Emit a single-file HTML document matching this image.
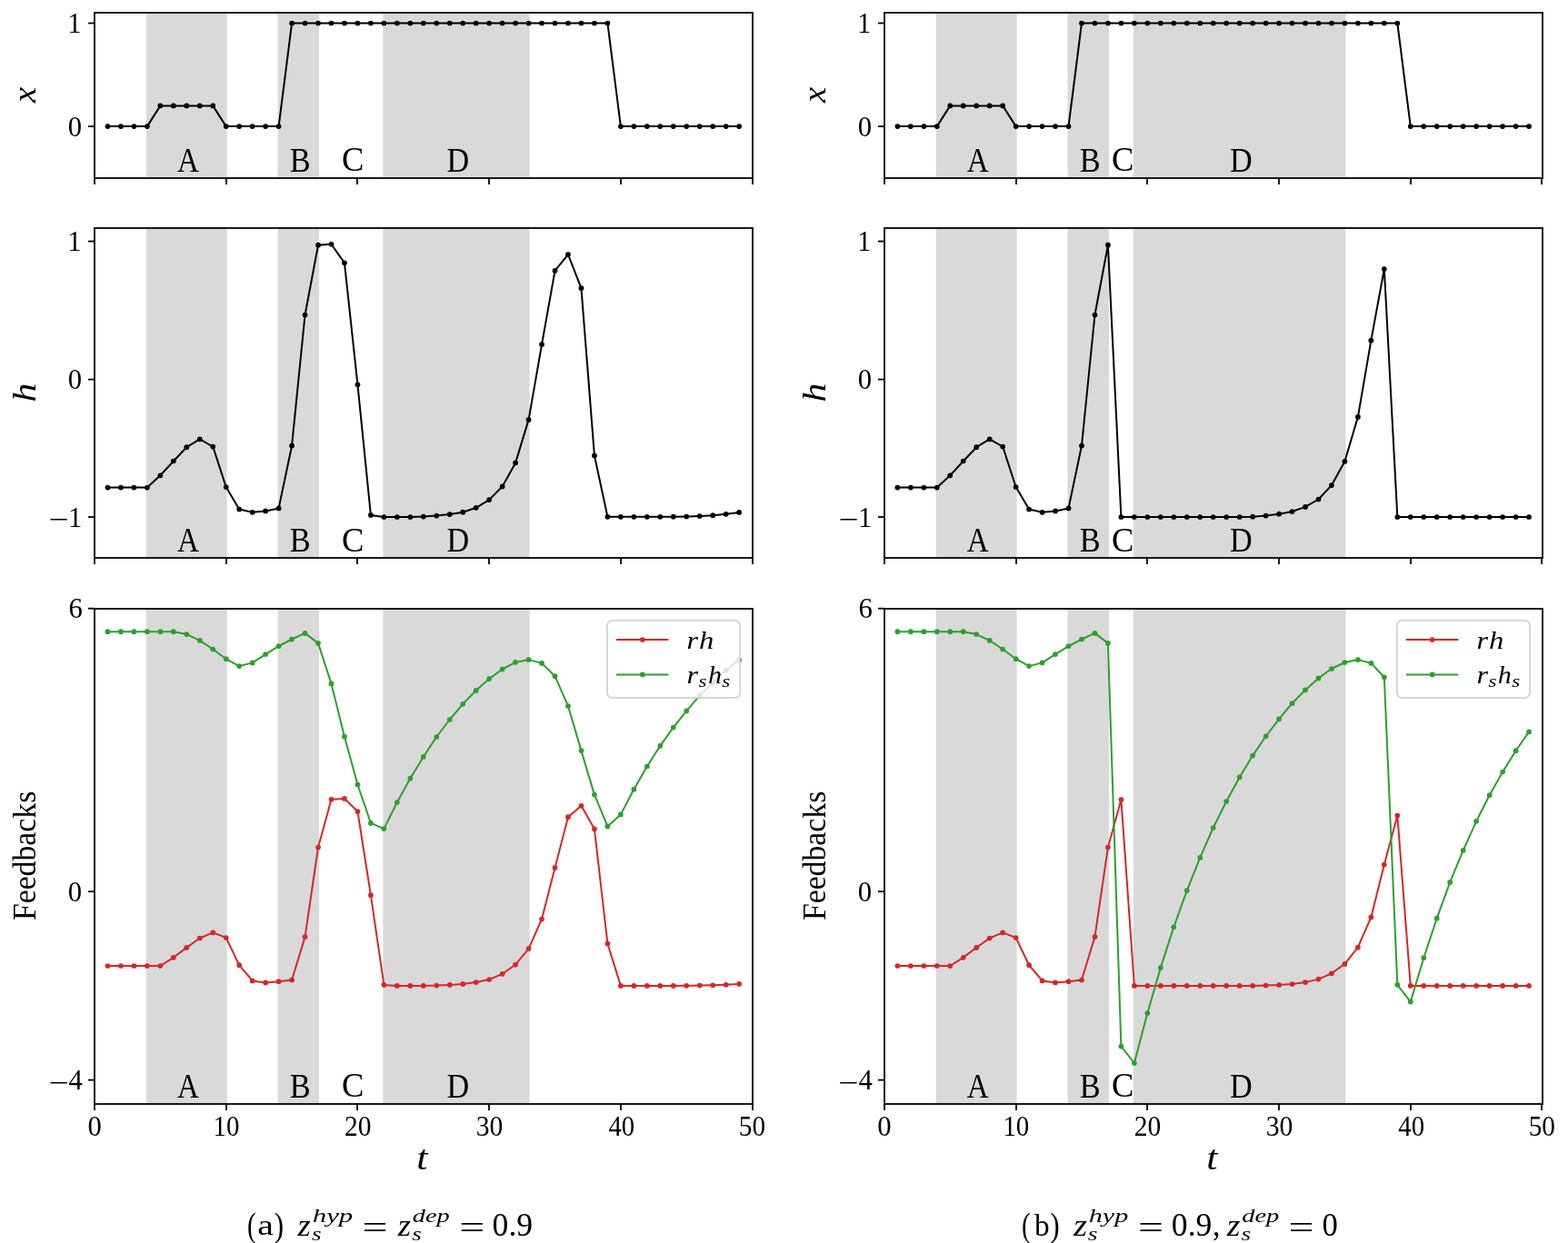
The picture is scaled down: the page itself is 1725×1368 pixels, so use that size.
<!DOCTYPE html>
<html><head><meta charset="utf-8"><title>Feedbacks figure</title>
<style>
html,body{margin:0;padding:0;background:#fff;}
body{width:1725px;height:1368px;overflow:hidden;}
svg{display:block;}
text{font-family:'Liberation Serif', 'DejaVu Serif', serif;fill:#000;}
</style></head>
<body>
<svg width="1725" height="1368" viewBox="0 0 1725 1368">
<rect x="0" y="0" width="1725" height="1368" fill="#ffffff"/>
<rect x="160.89" y="14.10" width="88.83" height="181.80" fill="#d9d9d9"/>
<rect x="305.61" y="14.10" width="45.42" height="181.80" fill="#d9d9d9"/>
<rect x="421.38" y="14.10" width="161.19" height="181.80" fill="#d9d9d9"/>
<polyline points="118.47,139.10 132.94,139.10 147.42,139.10 161.89,139.10 176.36,116.38 190.83,116.38 205.30,116.38 219.78,116.38 234.25,116.38 248.72,139.10 263.19,139.10 277.66,139.10 292.14,139.10 306.61,139.10 321.08,25.50 335.55,25.50 350.02,25.50 364.50,25.50 378.97,25.50 393.44,25.50 407.91,25.50 422.38,25.50 436.86,25.50 451.33,25.50 465.80,25.50 480.27,25.50 494.74,25.50 509.22,25.50 523.69,25.50 538.16,25.50 552.63,25.50 567.10,25.50 581.58,25.50 596.05,25.50 610.52,25.50 624.99,25.50 639.46,25.50 653.94,25.50 668.41,25.50 682.88,139.10 697.35,139.10 711.82,139.10 726.30,139.10 740.77,139.10 755.24,139.10 769.71,139.10 784.18,139.10 798.66,139.10 813.13,139.10" fill="none" stroke="#000000" stroke-width="2.00" stroke-linejoin="round" stroke-linecap="butt"/>
<g fill="#000000">
<circle cx="118.47" cy="139.10" r="2.85"/>
<circle cx="132.94" cy="139.10" r="2.85"/>
<circle cx="147.42" cy="139.10" r="2.85"/>
<circle cx="161.89" cy="139.10" r="2.85"/>
<circle cx="176.36" cy="116.38" r="2.85"/>
<circle cx="190.83" cy="116.38" r="2.85"/>
<circle cx="205.30" cy="116.38" r="2.85"/>
<circle cx="219.78" cy="116.38" r="2.85"/>
<circle cx="234.25" cy="116.38" r="2.85"/>
<circle cx="248.72" cy="139.10" r="2.85"/>
<circle cx="263.19" cy="139.10" r="2.85"/>
<circle cx="277.66" cy="139.10" r="2.85"/>
<circle cx="292.14" cy="139.10" r="2.85"/>
<circle cx="306.61" cy="139.10" r="2.85"/>
<circle cx="321.08" cy="25.50" r="2.85"/>
<circle cx="335.55" cy="25.50" r="2.85"/>
<circle cx="350.02" cy="25.50" r="2.85"/>
<circle cx="364.50" cy="25.50" r="2.85"/>
<circle cx="378.97" cy="25.50" r="2.85"/>
<circle cx="393.44" cy="25.50" r="2.85"/>
<circle cx="407.91" cy="25.50" r="2.85"/>
<circle cx="422.38" cy="25.50" r="2.85"/>
<circle cx="436.86" cy="25.50" r="2.85"/>
<circle cx="451.33" cy="25.50" r="2.85"/>
<circle cx="465.80" cy="25.50" r="2.85"/>
<circle cx="480.27" cy="25.50" r="2.85"/>
<circle cx="494.74" cy="25.50" r="2.85"/>
<circle cx="509.22" cy="25.50" r="2.85"/>
<circle cx="523.69" cy="25.50" r="2.85"/>
<circle cx="538.16" cy="25.50" r="2.85"/>
<circle cx="552.63" cy="25.50" r="2.85"/>
<circle cx="567.10" cy="25.50" r="2.85"/>
<circle cx="581.58" cy="25.50" r="2.85"/>
<circle cx="596.05" cy="25.50" r="2.85"/>
<circle cx="610.52" cy="25.50" r="2.85"/>
<circle cx="624.99" cy="25.50" r="2.85"/>
<circle cx="639.46" cy="25.50" r="2.85"/>
<circle cx="653.94" cy="25.50" r="2.85"/>
<circle cx="668.41" cy="25.50" r="2.85"/>
<circle cx="682.88" cy="139.10" r="2.85"/>
<circle cx="697.35" cy="139.10" r="2.85"/>
<circle cx="711.82" cy="139.10" r="2.85"/>
<circle cx="726.30" cy="139.10" r="2.85"/>
<circle cx="740.77" cy="139.10" r="2.85"/>
<circle cx="755.24" cy="139.10" r="2.85"/>
<circle cx="769.71" cy="139.10" r="2.85"/>
<circle cx="784.18" cy="139.10" r="2.85"/>
<circle cx="798.66" cy="139.10" r="2.85"/>
<circle cx="813.13" cy="139.10" r="2.85"/>
</g>
<rect x="104" y="14" width="724" height="182" fill="none" stroke="#000" stroke-width="1.8" stroke-linejoin="miter"/>
<line x1="104" y1="196" x2="104" y2="203" stroke="#000" stroke-width="1.8"/>
<line x1="249" y1="196" x2="249" y2="203" stroke="#000" stroke-width="1.8"/>
<line x1="393" y1="196" x2="393" y2="203" stroke="#000" stroke-width="1.8"/>
<line x1="538" y1="196" x2="538" y2="203" stroke="#000" stroke-width="1.8"/>
<line x1="683" y1="196" x2="683" y2="203" stroke="#000" stroke-width="1.8"/>
<line x1="828" y1="196" x2="828" y2="203" stroke="#000" stroke-width="1.8"/>
<line x1="97" y1="25.50" x2="104" y2="25.50" stroke="#000" stroke-width="1.8"/>
<line x1="97" y1="139.10" x2="104" y2="139.10" stroke="#000" stroke-width="1.8"/>
<rect x="160.89" y="251.10" width="88.83" height="363.30" fill="#d9d9d9"/>
<rect x="305.61" y="251.10" width="45.42" height="363.30" fill="#d9d9d9"/>
<rect x="421.38" y="251.10" width="161.19" height="363.30" fill="#d9d9d9"/>
<polyline points="118.47,536.60 132.94,536.60 147.42,536.60 161.89,536.60 176.36,523.30 190.83,507.50 205.30,492.20 219.78,483.30 234.25,491.50 248.72,536.00 263.19,560.50 277.66,563.80 292.14,562.40 306.61,559.40 321.08,490.50 335.55,346.50 350.02,269.70 364.50,268.75 378.97,289.30 393.44,423.30 407.91,566.90 422.38,569.00 436.86,569.00 451.33,569.00 465.80,568.60 480.27,567.60 494.74,566.10 509.22,563.70 523.69,558.80 538.16,550.10 552.63,535.40 567.10,509.40 581.58,461.90 596.05,379.10 610.52,297.90 624.99,280.10 639.46,317.20 653.94,501.40 668.41,568.80 682.88,568.80 697.35,568.80 711.82,568.80 726.30,568.80 740.77,568.70 755.24,568.50 769.71,568.00 784.18,567.20 798.66,565.80 813.13,563.90" fill="none" stroke="#000000" stroke-width="2.00" stroke-linejoin="round" stroke-linecap="butt"/>
<g fill="#000000">
<circle cx="118.47" cy="536.60" r="2.85"/>
<circle cx="132.94" cy="536.60" r="2.85"/>
<circle cx="147.42" cy="536.60" r="2.85"/>
<circle cx="161.89" cy="536.60" r="2.85"/>
<circle cx="176.36" cy="523.30" r="2.85"/>
<circle cx="190.83" cy="507.50" r="2.85"/>
<circle cx="205.30" cy="492.20" r="2.85"/>
<circle cx="219.78" cy="483.30" r="2.85"/>
<circle cx="234.25" cy="491.50" r="2.85"/>
<circle cx="248.72" cy="536.00" r="2.85"/>
<circle cx="263.19" cy="560.50" r="2.85"/>
<circle cx="277.66" cy="563.80" r="2.85"/>
<circle cx="292.14" cy="562.40" r="2.85"/>
<circle cx="306.61" cy="559.40" r="2.85"/>
<circle cx="321.08" cy="490.50" r="2.85"/>
<circle cx="335.55" cy="346.50" r="2.85"/>
<circle cx="350.02" cy="269.70" r="2.85"/>
<circle cx="364.50" cy="268.75" r="2.85"/>
<circle cx="378.97" cy="289.30" r="2.85"/>
<circle cx="393.44" cy="423.30" r="2.85"/>
<circle cx="407.91" cy="566.90" r="2.85"/>
<circle cx="422.38" cy="569.00" r="2.85"/>
<circle cx="436.86" cy="569.00" r="2.85"/>
<circle cx="451.33" cy="569.00" r="2.85"/>
<circle cx="465.80" cy="568.60" r="2.85"/>
<circle cx="480.27" cy="567.60" r="2.85"/>
<circle cx="494.74" cy="566.10" r="2.85"/>
<circle cx="509.22" cy="563.70" r="2.85"/>
<circle cx="523.69" cy="558.80" r="2.85"/>
<circle cx="538.16" cy="550.10" r="2.85"/>
<circle cx="552.63" cy="535.40" r="2.85"/>
<circle cx="567.10" cy="509.40" r="2.85"/>
<circle cx="581.58" cy="461.90" r="2.85"/>
<circle cx="596.05" cy="379.10" r="2.85"/>
<circle cx="610.52" cy="297.90" r="2.85"/>
<circle cx="624.99" cy="280.10" r="2.85"/>
<circle cx="639.46" cy="317.20" r="2.85"/>
<circle cx="653.94" cy="501.40" r="2.85"/>
<circle cx="668.41" cy="568.80" r="2.85"/>
<circle cx="682.88" cy="568.80" r="2.85"/>
<circle cx="697.35" cy="568.80" r="2.85"/>
<circle cx="711.82" cy="568.80" r="2.85"/>
<circle cx="726.30" cy="568.80" r="2.85"/>
<circle cx="740.77" cy="568.70" r="2.85"/>
<circle cx="755.24" cy="568.50" r="2.85"/>
<circle cx="769.71" cy="568.00" r="2.85"/>
<circle cx="784.18" cy="567.20" r="2.85"/>
<circle cx="798.66" cy="565.80" r="2.85"/>
<circle cx="813.13" cy="563.90" r="2.85"/>
</g>
<rect x="104" y="251" width="724" height="363" fill="none" stroke="#000" stroke-width="1.8" stroke-linejoin="miter"/>
<line x1="104" y1="614" x2="104" y2="621" stroke="#000" stroke-width="1.8"/>
<line x1="249" y1="614" x2="249" y2="621" stroke="#000" stroke-width="1.8"/>
<line x1="393" y1="614" x2="393" y2="621" stroke="#000" stroke-width="1.8"/>
<line x1="538" y1="614" x2="538" y2="621" stroke="#000" stroke-width="1.8"/>
<line x1="683" y1="614" x2="683" y2="621" stroke="#000" stroke-width="1.8"/>
<line x1="828" y1="614" x2="828" y2="621" stroke="#000" stroke-width="1.8"/>
<line x1="97" y1="265.60" x2="104" y2="265.60" stroke="#000" stroke-width="1.8"/>
<line x1="97" y1="417.60" x2="104" y2="417.60" stroke="#000" stroke-width="1.8"/>
<line x1="97" y1="569.00" x2="104" y2="569.00" stroke="#000" stroke-width="1.8"/>
<rect x="160.89" y="669.70" width="88.83" height="545.10" fill="#d9d9d9"/>
<rect x="305.61" y="669.70" width="45.42" height="545.10" fill="#d9d9d9"/>
<rect x="421.38" y="669.70" width="161.19" height="545.10" fill="#d9d9d9"/>
<polyline points="118.47,1063.00 132.94,1063.00 147.42,1063.00 161.89,1063.00 176.36,1063.00 190.83,1053.80 205.30,1042.90 219.78,1032.50 234.25,1026.40 248.72,1032.00 263.19,1062.20 277.66,1079.40 292.14,1081.40 306.61,1080.20 321.08,1078.50 335.55,1031.10 350.02,932.60 364.50,879.80 378.97,878.90 393.44,893.00 407.91,985.20 422.38,1083.90 436.86,1084.90 451.33,1084.90 465.80,1084.90 480.27,1084.60 494.74,1083.90 509.22,1082.90 523.69,1081.10 538.16,1078.00 552.63,1071.80 567.10,1061.70 581.58,1044.10 596.05,1011.50 610.52,954.90 624.99,899.20 639.46,886.80 653.94,912.30 668.41,1038.50 682.88,1084.90 697.35,1084.90 711.82,1084.90 726.30,1084.90 740.77,1084.90 755.24,1084.80 769.71,1084.60 784.18,1084.30 798.66,1083.80 813.13,1082.90" fill="none" stroke="#d62728" stroke-width="2.00" stroke-linejoin="round" stroke-linecap="butt"/>
<g fill="#d62728">
<circle cx="118.47" cy="1063.00" r="2.85"/>
<circle cx="132.94" cy="1063.00" r="2.85"/>
<circle cx="147.42" cy="1063.00" r="2.85"/>
<circle cx="161.89" cy="1063.00" r="2.85"/>
<circle cx="176.36" cy="1063.00" r="2.85"/>
<circle cx="190.83" cy="1053.80" r="2.85"/>
<circle cx="205.30" cy="1042.90" r="2.85"/>
<circle cx="219.78" cy="1032.50" r="2.85"/>
<circle cx="234.25" cy="1026.40" r="2.85"/>
<circle cx="248.72" cy="1032.00" r="2.85"/>
<circle cx="263.19" cy="1062.20" r="2.85"/>
<circle cx="277.66" cy="1079.40" r="2.85"/>
<circle cx="292.14" cy="1081.40" r="2.85"/>
<circle cx="306.61" cy="1080.20" r="2.85"/>
<circle cx="321.08" cy="1078.50" r="2.85"/>
<circle cx="335.55" cy="1031.10" r="2.85"/>
<circle cx="350.02" cy="932.60" r="2.85"/>
<circle cx="364.50" cy="879.80" r="2.85"/>
<circle cx="378.97" cy="878.90" r="2.85"/>
<circle cx="393.44" cy="893.00" r="2.85"/>
<circle cx="407.91" cy="985.20" r="2.85"/>
<circle cx="422.38" cy="1083.90" r="2.85"/>
<circle cx="436.86" cy="1084.90" r="2.85"/>
<circle cx="451.33" cy="1084.90" r="2.85"/>
<circle cx="465.80" cy="1084.90" r="2.85"/>
<circle cx="480.27" cy="1084.60" r="2.85"/>
<circle cx="494.74" cy="1083.90" r="2.85"/>
<circle cx="509.22" cy="1082.90" r="2.85"/>
<circle cx="523.69" cy="1081.10" r="2.85"/>
<circle cx="538.16" cy="1078.00" r="2.85"/>
<circle cx="552.63" cy="1071.80" r="2.85"/>
<circle cx="567.10" cy="1061.70" r="2.85"/>
<circle cx="581.58" cy="1044.10" r="2.85"/>
<circle cx="596.05" cy="1011.50" r="2.85"/>
<circle cx="610.52" cy="954.90" r="2.85"/>
<circle cx="624.99" cy="899.20" r="2.85"/>
<circle cx="639.46" cy="886.80" r="2.85"/>
<circle cx="653.94" cy="912.30" r="2.85"/>
<circle cx="668.41" cy="1038.50" r="2.85"/>
<circle cx="682.88" cy="1084.90" r="2.85"/>
<circle cx="697.35" cy="1084.90" r="2.85"/>
<circle cx="711.82" cy="1084.90" r="2.85"/>
<circle cx="726.30" cy="1084.90" r="2.85"/>
<circle cx="740.77" cy="1084.90" r="2.85"/>
<circle cx="755.24" cy="1084.80" r="2.85"/>
<circle cx="769.71" cy="1084.60" r="2.85"/>
<circle cx="784.18" cy="1084.30" r="2.85"/>
<circle cx="798.66" cy="1083.80" r="2.85"/>
<circle cx="813.13" cy="1082.90" r="2.85"/>
</g>
<polyline points="118.47,695.20 132.94,695.20 147.42,695.20 161.89,695.20 176.36,695.20 190.83,695.20 205.30,698.10 219.78,704.90 234.25,714.50 248.72,725.20 263.19,733.10 277.66,729.40 292.14,720.10 306.61,711.10 321.08,703.50 335.55,696.90 350.02,707.90 364.50,752.40 378.97,810.70 393.44,863.50 407.91,905.90 422.38,912.10 436.86,883.00 451.33,856.70 465.80,832.90 480.27,811.00 494.74,792.00 509.22,774.80 523.69,759.90 538.16,747.10 552.63,736.50 567.10,728.90 581.58,726.10 596.05,729.90 610.52,744.20 624.99,777.00 639.46,826.10 653.94,874.60 668.41,909.40 682.88,896.40 697.35,868.70 711.82,843.50 726.30,820.80 740.77,800.60 755.24,782.40 769.71,765.60 784.18,751.30 798.66,737.80 813.13,726.40" fill="none" stroke="#2ca02c" stroke-width="2.00" stroke-linejoin="round" stroke-linecap="butt"/>
<g fill="#2ca02c">
<circle cx="118.47" cy="695.20" r="2.85"/>
<circle cx="132.94" cy="695.20" r="2.85"/>
<circle cx="147.42" cy="695.20" r="2.85"/>
<circle cx="161.89" cy="695.20" r="2.85"/>
<circle cx="176.36" cy="695.20" r="2.85"/>
<circle cx="190.83" cy="695.20" r="2.85"/>
<circle cx="205.30" cy="698.10" r="2.85"/>
<circle cx="219.78" cy="704.90" r="2.85"/>
<circle cx="234.25" cy="714.50" r="2.85"/>
<circle cx="248.72" cy="725.20" r="2.85"/>
<circle cx="263.19" cy="733.10" r="2.85"/>
<circle cx="277.66" cy="729.40" r="2.85"/>
<circle cx="292.14" cy="720.10" r="2.85"/>
<circle cx="306.61" cy="711.10" r="2.85"/>
<circle cx="321.08" cy="703.50" r="2.85"/>
<circle cx="335.55" cy="696.90" r="2.85"/>
<circle cx="350.02" cy="707.90" r="2.85"/>
<circle cx="364.50" cy="752.40" r="2.85"/>
<circle cx="378.97" cy="810.70" r="2.85"/>
<circle cx="393.44" cy="863.50" r="2.85"/>
<circle cx="407.91" cy="905.90" r="2.85"/>
<circle cx="422.38" cy="912.10" r="2.85"/>
<circle cx="436.86" cy="883.00" r="2.85"/>
<circle cx="451.33" cy="856.70" r="2.85"/>
<circle cx="465.80" cy="832.90" r="2.85"/>
<circle cx="480.27" cy="811.00" r="2.85"/>
<circle cx="494.74" cy="792.00" r="2.85"/>
<circle cx="509.22" cy="774.80" r="2.85"/>
<circle cx="523.69" cy="759.90" r="2.85"/>
<circle cx="538.16" cy="747.10" r="2.85"/>
<circle cx="552.63" cy="736.50" r="2.85"/>
<circle cx="567.10" cy="728.90" r="2.85"/>
<circle cx="581.58" cy="726.10" r="2.85"/>
<circle cx="596.05" cy="729.90" r="2.85"/>
<circle cx="610.52" cy="744.20" r="2.85"/>
<circle cx="624.99" cy="777.00" r="2.85"/>
<circle cx="639.46" cy="826.10" r="2.85"/>
<circle cx="653.94" cy="874.60" r="2.85"/>
<circle cx="668.41" cy="909.40" r="2.85"/>
<circle cx="682.88" cy="896.40" r="2.85"/>
<circle cx="697.35" cy="868.70" r="2.85"/>
<circle cx="711.82" cy="843.50" r="2.85"/>
<circle cx="726.30" cy="820.80" r="2.85"/>
<circle cx="740.77" cy="800.60" r="2.85"/>
<circle cx="755.24" cy="782.40" r="2.85"/>
<circle cx="769.71" cy="765.60" r="2.85"/>
<circle cx="784.18" cy="751.30" r="2.85"/>
<circle cx="798.66" cy="737.80" r="2.85"/>
<circle cx="813.13" cy="726.40" r="2.85"/>
</g>
<rect x="104" y="670" width="724" height="545" fill="none" stroke="#000" stroke-width="1.8" stroke-linejoin="miter"/>
<line x1="104" y1="1215" x2="104" y2="1222" stroke="#000" stroke-width="1.8"/>
<line x1="249" y1="1215" x2="249" y2="1222" stroke="#000" stroke-width="1.8"/>
<line x1="393" y1="1215" x2="393" y2="1222" stroke="#000" stroke-width="1.8"/>
<line x1="538" y1="1215" x2="538" y2="1222" stroke="#000" stroke-width="1.8"/>
<line x1="683" y1="1215" x2="683" y2="1222" stroke="#000" stroke-width="1.8"/>
<line x1="828" y1="1215" x2="828" y2="1222" stroke="#000" stroke-width="1.8"/>
<line x1="97" y1="669.70" x2="104" y2="669.70" stroke="#000" stroke-width="1.8"/>
<line x1="97" y1="981.20" x2="104" y2="981.20" stroke="#000" stroke-width="1.8"/>
<line x1="97" y1="1188.60" x2="104" y2="1188.60" stroke="#000" stroke-width="1.8"/>
<rect x="667.90" y="682.80" width="146.30" height="85.30" rx="6" ry="6" fill="#ffffff" fill-opacity="0.8" stroke="#cccccc" stroke-opacity="0.8" stroke-width="2"/>
<line x1="678.00" y1="704.00" x2="735.40" y2="704.00" stroke="#d62728" stroke-width="2"/>
<circle cx="706.80" cy="704.00" r="2.85" fill="#d62728"/>
<line x1="678.00" y1="742.40" x2="735.40" y2="742.40" stroke="#2ca02c" stroke-width="2"/>
<circle cx="706.80" cy="742.40" r="2.85" fill="#2ca02c"/>
<rect x="1029.79" y="14.10" width="88.83" height="181.80" fill="#d9d9d9"/>
<rect x="1174.51" y="14.10" width="45.42" height="181.80" fill="#d9d9d9"/>
<rect x="1246.87" y="14.10" width="233.55" height="181.80" fill="#d9d9d9"/>
<polyline points="987.37,139.10 1001.84,139.10 1016.32,139.10 1030.79,139.10 1045.26,116.38 1059.73,116.38 1074.20,116.38 1088.68,116.38 1103.15,116.38 1117.62,139.10 1132.09,139.10 1146.56,139.10 1161.04,139.10 1175.51,139.10 1189.98,25.50 1204.45,25.50 1218.92,25.50 1233.40,25.50 1247.87,25.50 1262.34,25.50 1276.81,25.50 1291.28,25.50 1305.76,25.50 1320.23,25.50 1334.70,25.50 1349.17,25.50 1363.64,25.50 1378.12,25.50 1392.59,25.50 1407.06,25.50 1421.53,25.50 1436.00,25.50 1450.48,25.50 1464.95,25.50 1479.42,25.50 1493.89,25.50 1508.36,25.50 1522.84,25.50 1537.31,25.50 1551.78,139.10 1566.25,139.10 1580.72,139.10 1595.20,139.10 1609.67,139.10 1624.14,139.10 1638.61,139.10 1653.08,139.10 1667.56,139.10 1682.03,139.10" fill="none" stroke="#000000" stroke-width="2.00" stroke-linejoin="round" stroke-linecap="butt"/>
<g fill="#000000">
<circle cx="987.37" cy="139.10" r="2.85"/>
<circle cx="1001.84" cy="139.10" r="2.85"/>
<circle cx="1016.32" cy="139.10" r="2.85"/>
<circle cx="1030.79" cy="139.10" r="2.85"/>
<circle cx="1045.26" cy="116.38" r="2.85"/>
<circle cx="1059.73" cy="116.38" r="2.85"/>
<circle cx="1074.20" cy="116.38" r="2.85"/>
<circle cx="1088.68" cy="116.38" r="2.85"/>
<circle cx="1103.15" cy="116.38" r="2.85"/>
<circle cx="1117.62" cy="139.10" r="2.85"/>
<circle cx="1132.09" cy="139.10" r="2.85"/>
<circle cx="1146.56" cy="139.10" r="2.85"/>
<circle cx="1161.04" cy="139.10" r="2.85"/>
<circle cx="1175.51" cy="139.10" r="2.85"/>
<circle cx="1189.98" cy="25.50" r="2.85"/>
<circle cx="1204.45" cy="25.50" r="2.85"/>
<circle cx="1218.92" cy="25.50" r="2.85"/>
<circle cx="1233.40" cy="25.50" r="2.85"/>
<circle cx="1247.87" cy="25.50" r="2.85"/>
<circle cx="1262.34" cy="25.50" r="2.85"/>
<circle cx="1276.81" cy="25.50" r="2.85"/>
<circle cx="1291.28" cy="25.50" r="2.85"/>
<circle cx="1305.76" cy="25.50" r="2.85"/>
<circle cx="1320.23" cy="25.50" r="2.85"/>
<circle cx="1334.70" cy="25.50" r="2.85"/>
<circle cx="1349.17" cy="25.50" r="2.85"/>
<circle cx="1363.64" cy="25.50" r="2.85"/>
<circle cx="1378.12" cy="25.50" r="2.85"/>
<circle cx="1392.59" cy="25.50" r="2.85"/>
<circle cx="1407.06" cy="25.50" r="2.85"/>
<circle cx="1421.53" cy="25.50" r="2.85"/>
<circle cx="1436.00" cy="25.50" r="2.85"/>
<circle cx="1450.48" cy="25.50" r="2.85"/>
<circle cx="1464.95" cy="25.50" r="2.85"/>
<circle cx="1479.42" cy="25.50" r="2.85"/>
<circle cx="1493.89" cy="25.50" r="2.85"/>
<circle cx="1508.36" cy="25.50" r="2.85"/>
<circle cx="1522.84" cy="25.50" r="2.85"/>
<circle cx="1537.31" cy="25.50" r="2.85"/>
<circle cx="1551.78" cy="139.10" r="2.85"/>
<circle cx="1566.25" cy="139.10" r="2.85"/>
<circle cx="1580.72" cy="139.10" r="2.85"/>
<circle cx="1595.20" cy="139.10" r="2.85"/>
<circle cx="1609.67" cy="139.10" r="2.85"/>
<circle cx="1624.14" cy="139.10" r="2.85"/>
<circle cx="1638.61" cy="139.10" r="2.85"/>
<circle cx="1653.08" cy="139.10" r="2.85"/>
<circle cx="1667.56" cy="139.10" r="2.85"/>
<circle cx="1682.03" cy="139.10" r="2.85"/>
</g>
<rect x="973" y="14" width="724" height="182" fill="none" stroke="#000" stroke-width="1.8" stroke-linejoin="miter"/>
<line x1="973" y1="196" x2="973" y2="203" stroke="#000" stroke-width="1.8"/>
<line x1="1118" y1="196" x2="1118" y2="203" stroke="#000" stroke-width="1.8"/>
<line x1="1262" y1="196" x2="1262" y2="203" stroke="#000" stroke-width="1.8"/>
<line x1="1407" y1="196" x2="1407" y2="203" stroke="#000" stroke-width="1.8"/>
<line x1="1552" y1="196" x2="1552" y2="203" stroke="#000" stroke-width="1.8"/>
<line x1="1696" y1="196" x2="1696" y2="203" stroke="#000" stroke-width="1.8"/>
<line x1="966" y1="25.50" x2="973" y2="25.50" stroke="#000" stroke-width="1.8"/>
<line x1="966" y1="139.10" x2="973" y2="139.10" stroke="#000" stroke-width="1.8"/>
<rect x="1029.79" y="251.10" width="88.83" height="363.30" fill="#d9d9d9"/>
<rect x="1174.51" y="251.10" width="45.42" height="363.30" fill="#d9d9d9"/>
<rect x="1246.87" y="251.10" width="233.55" height="363.30" fill="#d9d9d9"/>
<polyline points="987.37,536.60 1001.84,536.60 1016.32,536.60 1030.79,536.60 1045.26,523.30 1059.73,507.50 1074.20,492.20 1088.68,483.30 1103.15,491.50 1117.62,536.00 1132.09,560.50 1146.56,563.80 1161.04,562.40 1175.51,559.40 1189.98,490.50 1204.45,346.50 1218.92,269.70 1233.40,569.00 1247.87,569.00 1262.34,569.00 1276.81,569.00 1291.28,569.00 1305.76,569.00 1320.23,569.00 1334.70,569.00 1349.17,569.00 1363.64,569.00 1378.12,568.70 1392.59,567.60 1407.06,565.70 1421.53,563.00 1436.00,557.90 1450.48,549.50 1464.95,534.10 1479.42,507.80 1493.89,458.90 1508.36,374.70 1522.84,296.00 1537.31,569.00 1551.78,569.00 1566.25,569.00 1580.72,569.00 1595.20,569.00 1609.67,569.00 1624.14,569.00 1638.61,569.00 1653.08,569.00 1667.56,569.00 1682.03,569.00" fill="none" stroke="#000000" stroke-width="2.00" stroke-linejoin="round" stroke-linecap="butt"/>
<g fill="#000000">
<circle cx="987.37" cy="536.60" r="2.85"/>
<circle cx="1001.84" cy="536.60" r="2.85"/>
<circle cx="1016.32" cy="536.60" r="2.85"/>
<circle cx="1030.79" cy="536.60" r="2.85"/>
<circle cx="1045.26" cy="523.30" r="2.85"/>
<circle cx="1059.73" cy="507.50" r="2.85"/>
<circle cx="1074.20" cy="492.20" r="2.85"/>
<circle cx="1088.68" cy="483.30" r="2.85"/>
<circle cx="1103.15" cy="491.50" r="2.85"/>
<circle cx="1117.62" cy="536.00" r="2.85"/>
<circle cx="1132.09" cy="560.50" r="2.85"/>
<circle cx="1146.56" cy="563.80" r="2.85"/>
<circle cx="1161.04" cy="562.40" r="2.85"/>
<circle cx="1175.51" cy="559.40" r="2.85"/>
<circle cx="1189.98" cy="490.50" r="2.85"/>
<circle cx="1204.45" cy="346.50" r="2.85"/>
<circle cx="1218.92" cy="269.70" r="2.85"/>
<circle cx="1233.40" cy="569.00" r="2.85"/>
<circle cx="1247.87" cy="569.00" r="2.85"/>
<circle cx="1262.34" cy="569.00" r="2.85"/>
<circle cx="1276.81" cy="569.00" r="2.85"/>
<circle cx="1291.28" cy="569.00" r="2.85"/>
<circle cx="1305.76" cy="569.00" r="2.85"/>
<circle cx="1320.23" cy="569.00" r="2.85"/>
<circle cx="1334.70" cy="569.00" r="2.85"/>
<circle cx="1349.17" cy="569.00" r="2.85"/>
<circle cx="1363.64" cy="569.00" r="2.85"/>
<circle cx="1378.12" cy="568.70" r="2.85"/>
<circle cx="1392.59" cy="567.60" r="2.85"/>
<circle cx="1407.06" cy="565.70" r="2.85"/>
<circle cx="1421.53" cy="563.00" r="2.85"/>
<circle cx="1436.00" cy="557.90" r="2.85"/>
<circle cx="1450.48" cy="549.50" r="2.85"/>
<circle cx="1464.95" cy="534.10" r="2.85"/>
<circle cx="1479.42" cy="507.80" r="2.85"/>
<circle cx="1493.89" cy="458.90" r="2.85"/>
<circle cx="1508.36" cy="374.70" r="2.85"/>
<circle cx="1522.84" cy="296.00" r="2.85"/>
<circle cx="1537.31" cy="569.00" r="2.85"/>
<circle cx="1551.78" cy="569.00" r="2.85"/>
<circle cx="1566.25" cy="569.00" r="2.85"/>
<circle cx="1580.72" cy="569.00" r="2.85"/>
<circle cx="1595.20" cy="569.00" r="2.85"/>
<circle cx="1609.67" cy="569.00" r="2.85"/>
<circle cx="1624.14" cy="569.00" r="2.85"/>
<circle cx="1638.61" cy="569.00" r="2.85"/>
<circle cx="1653.08" cy="569.00" r="2.85"/>
<circle cx="1667.56" cy="569.00" r="2.85"/>
<circle cx="1682.03" cy="569.00" r="2.85"/>
</g>
<rect x="973" y="251" width="724" height="363" fill="none" stroke="#000" stroke-width="1.8" stroke-linejoin="miter"/>
<line x1="973" y1="614" x2="973" y2="621" stroke="#000" stroke-width="1.8"/>
<line x1="1118" y1="614" x2="1118" y2="621" stroke="#000" stroke-width="1.8"/>
<line x1="1262" y1="614" x2="1262" y2="621" stroke="#000" stroke-width="1.8"/>
<line x1="1407" y1="614" x2="1407" y2="621" stroke="#000" stroke-width="1.8"/>
<line x1="1552" y1="614" x2="1552" y2="621" stroke="#000" stroke-width="1.8"/>
<line x1="1696" y1="614" x2="1696" y2="621" stroke="#000" stroke-width="1.8"/>
<line x1="966" y1="265.60" x2="973" y2="265.60" stroke="#000" stroke-width="1.8"/>
<line x1="966" y1="417.60" x2="973" y2="417.60" stroke="#000" stroke-width="1.8"/>
<line x1="966" y1="569.00" x2="973" y2="569.00" stroke="#000" stroke-width="1.8"/>
<rect x="1029.79" y="669.70" width="88.83" height="545.10" fill="#d9d9d9"/>
<rect x="1174.51" y="669.70" width="45.42" height="545.10" fill="#d9d9d9"/>
<rect x="1246.87" y="669.70" width="233.55" height="545.10" fill="#d9d9d9"/>
<polyline points="987.37,1063.00 1001.84,1063.00 1016.32,1063.00 1030.79,1063.00 1045.26,1063.00 1059.73,1053.80 1074.20,1042.90 1088.68,1032.50 1103.15,1026.40 1117.62,1032.00 1132.09,1062.20 1146.56,1079.40 1161.04,1081.40 1175.51,1080.20 1189.98,1078.50 1204.45,1031.10 1218.92,932.60 1233.40,880.00 1247.87,1084.90 1262.34,1084.90 1276.81,1084.90 1291.28,1084.90 1305.76,1084.90 1320.23,1084.90 1334.70,1084.90 1349.17,1084.90 1363.64,1084.90 1378.12,1084.90 1392.59,1084.60 1407.06,1084.00 1421.53,1083.00 1436.00,1081.10 1450.48,1077.60 1464.95,1071.30 1479.42,1060.90 1493.89,1042.70 1508.36,1009.40 1522.84,951.50 1537.31,897.60 1551.78,1084.90 1566.25,1084.90 1580.72,1084.90 1595.20,1084.90 1609.67,1084.90 1624.14,1084.90 1638.61,1084.90 1653.08,1084.90 1667.56,1084.90 1682.03,1084.90" fill="none" stroke="#d62728" stroke-width="2.00" stroke-linejoin="round" stroke-linecap="butt"/>
<g fill="#d62728">
<circle cx="987.37" cy="1063.00" r="2.85"/>
<circle cx="1001.84" cy="1063.00" r="2.85"/>
<circle cx="1016.32" cy="1063.00" r="2.85"/>
<circle cx="1030.79" cy="1063.00" r="2.85"/>
<circle cx="1045.26" cy="1063.00" r="2.85"/>
<circle cx="1059.73" cy="1053.80" r="2.85"/>
<circle cx="1074.20" cy="1042.90" r="2.85"/>
<circle cx="1088.68" cy="1032.50" r="2.85"/>
<circle cx="1103.15" cy="1026.40" r="2.85"/>
<circle cx="1117.62" cy="1032.00" r="2.85"/>
<circle cx="1132.09" cy="1062.20" r="2.85"/>
<circle cx="1146.56" cy="1079.40" r="2.85"/>
<circle cx="1161.04" cy="1081.40" r="2.85"/>
<circle cx="1175.51" cy="1080.20" r="2.85"/>
<circle cx="1189.98" cy="1078.50" r="2.85"/>
<circle cx="1204.45" cy="1031.10" r="2.85"/>
<circle cx="1218.92" cy="932.60" r="2.85"/>
<circle cx="1233.40" cy="880.00" r="2.85"/>
<circle cx="1247.87" cy="1084.90" r="2.85"/>
<circle cx="1262.34" cy="1084.90" r="2.85"/>
<circle cx="1276.81" cy="1084.90" r="2.85"/>
<circle cx="1291.28" cy="1084.90" r="2.85"/>
<circle cx="1305.76" cy="1084.90" r="2.85"/>
<circle cx="1320.23" cy="1084.90" r="2.85"/>
<circle cx="1334.70" cy="1084.90" r="2.85"/>
<circle cx="1349.17" cy="1084.90" r="2.85"/>
<circle cx="1363.64" cy="1084.90" r="2.85"/>
<circle cx="1378.12" cy="1084.90" r="2.85"/>
<circle cx="1392.59" cy="1084.60" r="2.85"/>
<circle cx="1407.06" cy="1084.00" r="2.85"/>
<circle cx="1421.53" cy="1083.00" r="2.85"/>
<circle cx="1436.00" cy="1081.10" r="2.85"/>
<circle cx="1450.48" cy="1077.60" r="2.85"/>
<circle cx="1464.95" cy="1071.30" r="2.85"/>
<circle cx="1479.42" cy="1060.90" r="2.85"/>
<circle cx="1493.89" cy="1042.70" r="2.85"/>
<circle cx="1508.36" cy="1009.40" r="2.85"/>
<circle cx="1522.84" cy="951.50" r="2.85"/>
<circle cx="1537.31" cy="897.60" r="2.85"/>
<circle cx="1551.78" cy="1084.90" r="2.85"/>
<circle cx="1566.25" cy="1084.90" r="2.85"/>
<circle cx="1580.72" cy="1084.90" r="2.85"/>
<circle cx="1595.20" cy="1084.90" r="2.85"/>
<circle cx="1609.67" cy="1084.90" r="2.85"/>
<circle cx="1624.14" cy="1084.90" r="2.85"/>
<circle cx="1638.61" cy="1084.90" r="2.85"/>
<circle cx="1653.08" cy="1084.90" r="2.85"/>
<circle cx="1667.56" cy="1084.90" r="2.85"/>
<circle cx="1682.03" cy="1084.90" r="2.85"/>
</g>
<polyline points="987.37,695.20 1001.84,695.20 1016.32,695.20 1030.79,695.20 1045.26,695.20 1059.73,695.20 1074.20,698.10 1088.68,704.90 1103.15,714.50 1117.62,725.20 1132.09,733.10 1146.56,729.40 1161.04,720.10 1175.51,711.10 1189.98,703.50 1204.45,696.90 1218.92,707.90 1233.40,1151.60 1247.87,1170.00 1262.34,1115.00 1276.81,1065.10 1291.28,1020.30 1305.76,980.10 1320.23,943.90 1334.70,911.00 1349.17,882.00 1363.64,855.40 1378.12,831.60 1392.59,810.30 1407.06,791.30 1421.53,774.00 1436.00,759.40 1450.48,746.40 1464.95,736.00 1479.42,729.00 1493.89,726.10 1508.36,729.90 1522.84,745.30 1537.31,1083.80 1551.78,1102.60 1566.25,1054.20 1580.72,1010.70 1595.20,970.90 1609.67,935.90 1624.14,903.80 1638.61,875.20 1653.08,849.60 1667.56,826.20 1682.03,805.40" fill="none" stroke="#2ca02c" stroke-width="2.00" stroke-linejoin="round" stroke-linecap="butt"/>
<g fill="#2ca02c">
<circle cx="987.37" cy="695.20" r="2.85"/>
<circle cx="1001.84" cy="695.20" r="2.85"/>
<circle cx="1016.32" cy="695.20" r="2.85"/>
<circle cx="1030.79" cy="695.20" r="2.85"/>
<circle cx="1045.26" cy="695.20" r="2.85"/>
<circle cx="1059.73" cy="695.20" r="2.85"/>
<circle cx="1074.20" cy="698.10" r="2.85"/>
<circle cx="1088.68" cy="704.90" r="2.85"/>
<circle cx="1103.15" cy="714.50" r="2.85"/>
<circle cx="1117.62" cy="725.20" r="2.85"/>
<circle cx="1132.09" cy="733.10" r="2.85"/>
<circle cx="1146.56" cy="729.40" r="2.85"/>
<circle cx="1161.04" cy="720.10" r="2.85"/>
<circle cx="1175.51" cy="711.10" r="2.85"/>
<circle cx="1189.98" cy="703.50" r="2.85"/>
<circle cx="1204.45" cy="696.90" r="2.85"/>
<circle cx="1218.92" cy="707.90" r="2.85"/>
<circle cx="1233.40" cy="1151.60" r="2.85"/>
<circle cx="1247.87" cy="1170.00" r="2.85"/>
<circle cx="1262.34" cy="1115.00" r="2.85"/>
<circle cx="1276.81" cy="1065.10" r="2.85"/>
<circle cx="1291.28" cy="1020.30" r="2.85"/>
<circle cx="1305.76" cy="980.10" r="2.85"/>
<circle cx="1320.23" cy="943.90" r="2.85"/>
<circle cx="1334.70" cy="911.00" r="2.85"/>
<circle cx="1349.17" cy="882.00" r="2.85"/>
<circle cx="1363.64" cy="855.40" r="2.85"/>
<circle cx="1378.12" cy="831.60" r="2.85"/>
<circle cx="1392.59" cy="810.30" r="2.85"/>
<circle cx="1407.06" cy="791.30" r="2.85"/>
<circle cx="1421.53" cy="774.00" r="2.85"/>
<circle cx="1436.00" cy="759.40" r="2.85"/>
<circle cx="1450.48" cy="746.40" r="2.85"/>
<circle cx="1464.95" cy="736.00" r="2.85"/>
<circle cx="1479.42" cy="729.00" r="2.85"/>
<circle cx="1493.89" cy="726.10" r="2.85"/>
<circle cx="1508.36" cy="729.90" r="2.85"/>
<circle cx="1522.84" cy="745.30" r="2.85"/>
<circle cx="1537.31" cy="1083.80" r="2.85"/>
<circle cx="1551.78" cy="1102.60" r="2.85"/>
<circle cx="1566.25" cy="1054.20" r="2.85"/>
<circle cx="1580.72" cy="1010.70" r="2.85"/>
<circle cx="1595.20" cy="970.90" r="2.85"/>
<circle cx="1609.67" cy="935.90" r="2.85"/>
<circle cx="1624.14" cy="903.80" r="2.85"/>
<circle cx="1638.61" cy="875.20" r="2.85"/>
<circle cx="1653.08" cy="849.60" r="2.85"/>
<circle cx="1667.56" cy="826.20" r="2.85"/>
<circle cx="1682.03" cy="805.40" r="2.85"/>
</g>
<rect x="973" y="670" width="724" height="545" fill="none" stroke="#000" stroke-width="1.8" stroke-linejoin="miter"/>
<line x1="973" y1="1215" x2="973" y2="1222" stroke="#000" stroke-width="1.8"/>
<line x1="1118" y1="1215" x2="1118" y2="1222" stroke="#000" stroke-width="1.8"/>
<line x1="1262" y1="1215" x2="1262" y2="1222" stroke="#000" stroke-width="1.8"/>
<line x1="1407" y1="1215" x2="1407" y2="1222" stroke="#000" stroke-width="1.8"/>
<line x1="1552" y1="1215" x2="1552" y2="1222" stroke="#000" stroke-width="1.8"/>
<line x1="1696" y1="1215" x2="1696" y2="1222" stroke="#000" stroke-width="1.8"/>
<line x1="966" y1="669.70" x2="973" y2="669.70" stroke="#000" stroke-width="1.8"/>
<line x1="966" y1="981.20" x2="973" y2="981.20" stroke="#000" stroke-width="1.8"/>
<line x1="966" y1="1188.60" x2="973" y2="1188.60" stroke="#000" stroke-width="1.8"/>
<rect x="1536.80" y="682.80" width="146.30" height="85.30" rx="6" ry="6" fill="#ffffff" fill-opacity="0.8" stroke="#cccccc" stroke-opacity="0.8" stroke-width="2"/>
<line x1="1546.90" y1="704.00" x2="1604.30" y2="704.00" stroke="#d62728" stroke-width="2"/>
<circle cx="1575.70" cy="704.00" r="2.85" fill="#d62728"/>
<line x1="1546.90" y1="742.40" x2="1604.30" y2="742.40" stroke="#2ca02c" stroke-width="2"/>
<circle cx="1575.70" cy="742.40" r="2.85" fill="#2ca02c"/>
<text x="74.17" y="36.28" font-size="30.71">1</text>
<text x="74.75" y="149.68" font-size="30.71">0</text>
<text x="74.17" y="276.38" font-size="30.71">1</text>
<text x="74.75" y="428.18" font-size="30.71">0</text>
<text x="53.58" y="581.95" font-size="31.00" textLength="22.13" lengthAdjust="spacingAndGlyphs">&#8722;</text>
<text x="75.07" y="579.58" font-size="30.71">1</text>
<text x="75.53" y="680.40" font-size="30.71">6</text>
<text x="74.75" y="991.78" font-size="30.71">0</text>
<text x="53.47" y="1201.95" font-size="31.00" textLength="22.25" lengthAdjust="spacingAndGlyphs">&#8722;</text>
<text x="75.55" y="1199.22" font-size="30.71">4</text>
<text x="96.45" y="1249.53" font-size="30.71">0</text>
<text x="234.47" y="1249.57" font-size="30.71" textLength="28.91" lengthAdjust="spacingAndGlyphs">10</text>
<text x="378.88" y="1249.53" font-size="30.71" textLength="29.53" lengthAdjust="spacingAndGlyphs">20</text>
<text x="523.80" y="1249.53" font-size="30.71" textLength="29.63" lengthAdjust="spacingAndGlyphs">30</text>
<text x="669.38" y="1249.53" font-size="30.71" textLength="28.72" lengthAdjust="spacingAndGlyphs">40</text>
<text x="812.80" y="1249.57" font-size="30.71" textLength="29.25" lengthAdjust="spacingAndGlyphs">50</text>
<text transform="translate(39.10,113.10) rotate(-90)" font-size="35.04" font-style="italic" textLength="17.18" lengthAdjust="spacingAndGlyphs">x</text>
<text transform="translate(39.08,442.40) rotate(-90)" font-size="36.50" font-style="italic" textLength="20.85" lengthAdjust="spacingAndGlyphs">h</text>
<text transform="translate(38.80,1013.08) rotate(-90)" font-size="35.86" textLength="142.36" lengthAdjust="spacingAndGlyphs">Feedbacks</text>
<text x="458.30" y="1286.70" font-size="38.31" font-style="italic" textLength="12.23" lengthAdjust="spacingAndGlyphs">t</text>
<text x="755.58" y="714.00" font-size="27.50" font-style="italic" textLength="12.52" lengthAdjust="spacingAndGlyphs">r</text>
<text x="769.08" y="714.00" font-size="28.22" font-style="italic" textLength="16.32" lengthAdjust="spacingAndGlyphs">h</text>
<text x="755.58" y="752.10" font-size="27.50" font-style="italic" textLength="12.52" lengthAdjust="spacingAndGlyphs">r</text>
<text x="768.60" y="756.25" font-size="18.47" font-style="italic" textLength="8.95" lengthAdjust="spacingAndGlyphs">s</text>
<text x="778.98" y="752.12" font-size="27.64" font-style="italic" textLength="15.07" lengthAdjust="spacingAndGlyphs">h</text>
<text x="794.30" y="756.25" font-size="19.50" font-style="italic" textLength="8.95" lengthAdjust="spacingAndGlyphs">s</text>
<text x="943.08" y="36.28" font-size="30.71">1</text>
<text x="943.65" y="149.68" font-size="30.71">0</text>
<text x="943.08" y="276.38" font-size="30.71">1</text>
<text x="943.65" y="428.18" font-size="30.71">0</text>
<text x="922.47" y="581.95" font-size="31.00" textLength="22.13" lengthAdjust="spacingAndGlyphs">&#8722;</text>
<text x="943.97" y="579.58" font-size="30.71">1</text>
<text x="944.42" y="680.40" font-size="30.71">6</text>
<text x="943.65" y="991.78" font-size="30.71">0</text>
<text x="922.38" y="1201.95" font-size="31.00" textLength="22.25" lengthAdjust="spacingAndGlyphs">&#8722;</text>
<text x="944.45" y="1199.22" font-size="30.71">4</text>
<text x="965.35" y="1249.53" font-size="30.71">0</text>
<text x="1103.38" y="1249.57" font-size="30.71" textLength="28.91" lengthAdjust="spacingAndGlyphs">10</text>
<text x="1247.78" y="1249.53" font-size="30.71" textLength="29.53" lengthAdjust="spacingAndGlyphs">20</text>
<text x="1392.70" y="1249.53" font-size="30.71" textLength="29.63" lengthAdjust="spacingAndGlyphs">30</text>
<text x="1538.28" y="1249.53" font-size="30.71" textLength="28.72" lengthAdjust="spacingAndGlyphs">40</text>
<text x="1681.70" y="1249.57" font-size="30.71" textLength="29.25" lengthAdjust="spacingAndGlyphs">50</text>
<text transform="translate(908.00,113.10) rotate(-90)" font-size="35.04" font-style="italic" textLength="17.18" lengthAdjust="spacingAndGlyphs">x</text>
<text transform="translate(907.97,442.40) rotate(-90)" font-size="36.50" font-style="italic" textLength="20.85" lengthAdjust="spacingAndGlyphs">h</text>
<text transform="translate(907.70,1013.08) rotate(-90)" font-size="35.86" textLength="142.36" lengthAdjust="spacingAndGlyphs">Feedbacks</text>
<text x="1327.20" y="1286.70" font-size="38.31" font-style="italic" textLength="12.23" lengthAdjust="spacingAndGlyphs">t</text>
<text x="1624.47" y="714.00" font-size="27.50" font-style="italic" textLength="12.52" lengthAdjust="spacingAndGlyphs">r</text>
<text x="1637.97" y="714.00" font-size="28.22" font-style="italic" textLength="16.32" lengthAdjust="spacingAndGlyphs">h</text>
<text x="1624.47" y="752.10" font-size="27.50" font-style="italic" textLength="12.52" lengthAdjust="spacingAndGlyphs">r</text>
<text x="1637.50" y="756.25" font-size="18.47" font-style="italic" textLength="8.95" lengthAdjust="spacingAndGlyphs">s</text>
<text x="1647.88" y="752.12" font-size="27.64" font-style="italic" textLength="15.07" lengthAdjust="spacingAndGlyphs">h</text>
<text x="1663.20" y="756.25" font-size="19.50" font-style="italic" textLength="8.95" lengthAdjust="spacingAndGlyphs">s</text>
<text x="194.90" y="188.98" font-size="38.03" textLength="23.95" lengthAdjust="spacingAndGlyphs">A</text>
<text x="318.79" y="188.73" font-size="38.03" textLength="22.87" lengthAdjust="spacingAndGlyphs">B</text>
<text x="375.93" y="188.40" font-size="38.03" textLength="24.37" lengthAdjust="spacingAndGlyphs">C</text>
<text x="491.45" y="188.85" font-size="38.03" textLength="24.66" lengthAdjust="spacingAndGlyphs">D</text>
<text x="194.90" y="607.47" font-size="38.03" textLength="23.95" lengthAdjust="spacingAndGlyphs">A</text>
<text x="318.79" y="607.22" font-size="38.03" textLength="22.87" lengthAdjust="spacingAndGlyphs">B</text>
<text x="375.93" y="606.90" font-size="38.03" textLength="24.37" lengthAdjust="spacingAndGlyphs">C</text>
<text x="491.45" y="607.35" font-size="38.03" textLength="24.66" lengthAdjust="spacingAndGlyphs">D</text>
<text x="194.90" y="1207.88" font-size="38.03" textLength="23.95" lengthAdjust="spacingAndGlyphs">A</text>
<text x="318.79" y="1207.62" font-size="38.03" textLength="22.87" lengthAdjust="spacingAndGlyphs">B</text>
<text x="375.93" y="1207.30" font-size="38.03" textLength="24.37" lengthAdjust="spacingAndGlyphs">C</text>
<text x="491.45" y="1207.75" font-size="38.03" textLength="24.66" lengthAdjust="spacingAndGlyphs">D</text>
<text x="1063.80" y="188.98" font-size="38.03" textLength="23.95" lengthAdjust="spacingAndGlyphs">A</text>
<text x="1187.69" y="188.73" font-size="38.03" textLength="22.87" lengthAdjust="spacingAndGlyphs">B</text>
<text x="1223.12" y="188.40" font-size="38.03" textLength="24.37" lengthAdjust="spacingAndGlyphs">C</text>
<text x="1353.12" y="188.85" font-size="38.03" textLength="24.66" lengthAdjust="spacingAndGlyphs">D</text>
<text x="1063.80" y="607.47" font-size="38.03" textLength="23.95" lengthAdjust="spacingAndGlyphs">A</text>
<text x="1187.69" y="607.22" font-size="38.03" textLength="22.87" lengthAdjust="spacingAndGlyphs">B</text>
<text x="1223.12" y="606.90" font-size="38.03" textLength="24.37" lengthAdjust="spacingAndGlyphs">C</text>
<text x="1353.12" y="607.35" font-size="38.03" textLength="24.66" lengthAdjust="spacingAndGlyphs">D</text>
<text x="1063.80" y="1207.88" font-size="38.03" textLength="23.95" lengthAdjust="spacingAndGlyphs">A</text>
<text x="1187.69" y="1207.62" font-size="38.03" textLength="22.87" lengthAdjust="spacingAndGlyphs">B</text>
<text x="1223.12" y="1207.30" font-size="38.03" textLength="24.37" lengthAdjust="spacingAndGlyphs">C</text>
<text x="1353.12" y="1207.75" font-size="38.03" textLength="24.66" lengthAdjust="spacingAndGlyphs">D</text>
<text x="272.10" y="1360.60" font-size="38.33" textLength="9.65" lengthAdjust="spacingAndGlyphs">(</text>
<text x="283.23" y="1359.25" font-size="32.44" textLength="17.70" lengthAdjust="spacingAndGlyphs">a</text>
<text x="301.85" y="1360.60" font-size="38.33" textLength="10.34" lengthAdjust="spacingAndGlyphs">)</text>
<text x="327.62" y="1360.28" font-size="33.15" font-style="italic" textLength="14.27" lengthAdjust="spacingAndGlyphs">z</text>
<text x="343.00" y="1365.38" font-size="20.29" font-style="italic" textLength="10.58" lengthAdjust="spacingAndGlyphs">s</text>
<text x="343.75" y="1345.18" font-size="21.47" font-style="italic" textLength="44.41" lengthAdjust="spacingAndGlyphs">hyp</text>
<text x="398.48" y="1362.97" font-size="35.00" textLength="28.08" lengthAdjust="spacingAndGlyphs">=</text>
<text x="437.83" y="1360.28" font-size="33.15" font-style="italic" textLength="14.27" lengthAdjust="spacingAndGlyphs">z</text>
<text x="453.25" y="1365.38" font-size="20.29" font-style="italic" textLength="10.52" lengthAdjust="spacingAndGlyphs">s</text>
<text x="453.80" y="1345.30" font-size="21.47" font-style="italic" textLength="41.01" lengthAdjust="spacingAndGlyphs">dep</text>
<text x="505.27" y="1362.97" font-size="35.00" textLength="28.08" lengthAdjust="spacingAndGlyphs">=</text>
<text x="541.62" y="1360.32" font-size="34.78" textLength="44.50" lengthAdjust="spacingAndGlyphs">0.9</text>
<text x="1123.95" y="1360.60" font-size="38.33" textLength="9.71" lengthAdjust="spacingAndGlyphs">(</text>
<text x="1138.10" y="1359.72" font-size="32.95" textLength="16.69" lengthAdjust="spacingAndGlyphs">b</text>
<text x="1155.30" y="1360.60" font-size="38.33" textLength="10.41" lengthAdjust="spacingAndGlyphs">)</text>
<text x="1180.90" y="1360.28" font-size="33.15" font-style="italic" textLength="15.12" lengthAdjust="spacingAndGlyphs">z</text>
<text x="1196.72" y="1365.38" font-size="20.29" font-style="italic" textLength="10.74" lengthAdjust="spacingAndGlyphs">s</text>
<text x="1197.72" y="1345.18" font-size="21.47" font-style="italic" textLength="43.58" lengthAdjust="spacingAndGlyphs">hyp</text>
<text x="1251.95" y="1362.97" font-size="35.00" textLength="28.02" lengthAdjust="spacingAndGlyphs">=</text>
<text x="1288.88" y="1360.32" font-size="34.78" textLength="44.44" lengthAdjust="spacingAndGlyphs">0.9</text>
<text x="1334.10" y="1359.75" font-size="35.00" textLength="8.42" lengthAdjust="spacingAndGlyphs">,</text>
<text x="1349.88" y="1360.28" font-size="33.15" font-style="italic" textLength="14.72" lengthAdjust="spacingAndGlyphs">z</text>
<text x="1365.60" y="1365.38" font-size="20.29" font-style="italic" textLength="10.69" lengthAdjust="spacingAndGlyphs">s</text>
<text x="1366.25" y="1345.30" font-size="21.47" font-style="italic" textLength="41.07" lengthAdjust="spacingAndGlyphs">dep</text>
<text x="1417.57" y="1362.97" font-size="35.00" textLength="28.08" lengthAdjust="spacingAndGlyphs">=</text>
<text x="1454.43" y="1360.45" font-size="34.78" textLength="17.33" lengthAdjust="spacingAndGlyphs">0</text>
</svg>
</body></html>
